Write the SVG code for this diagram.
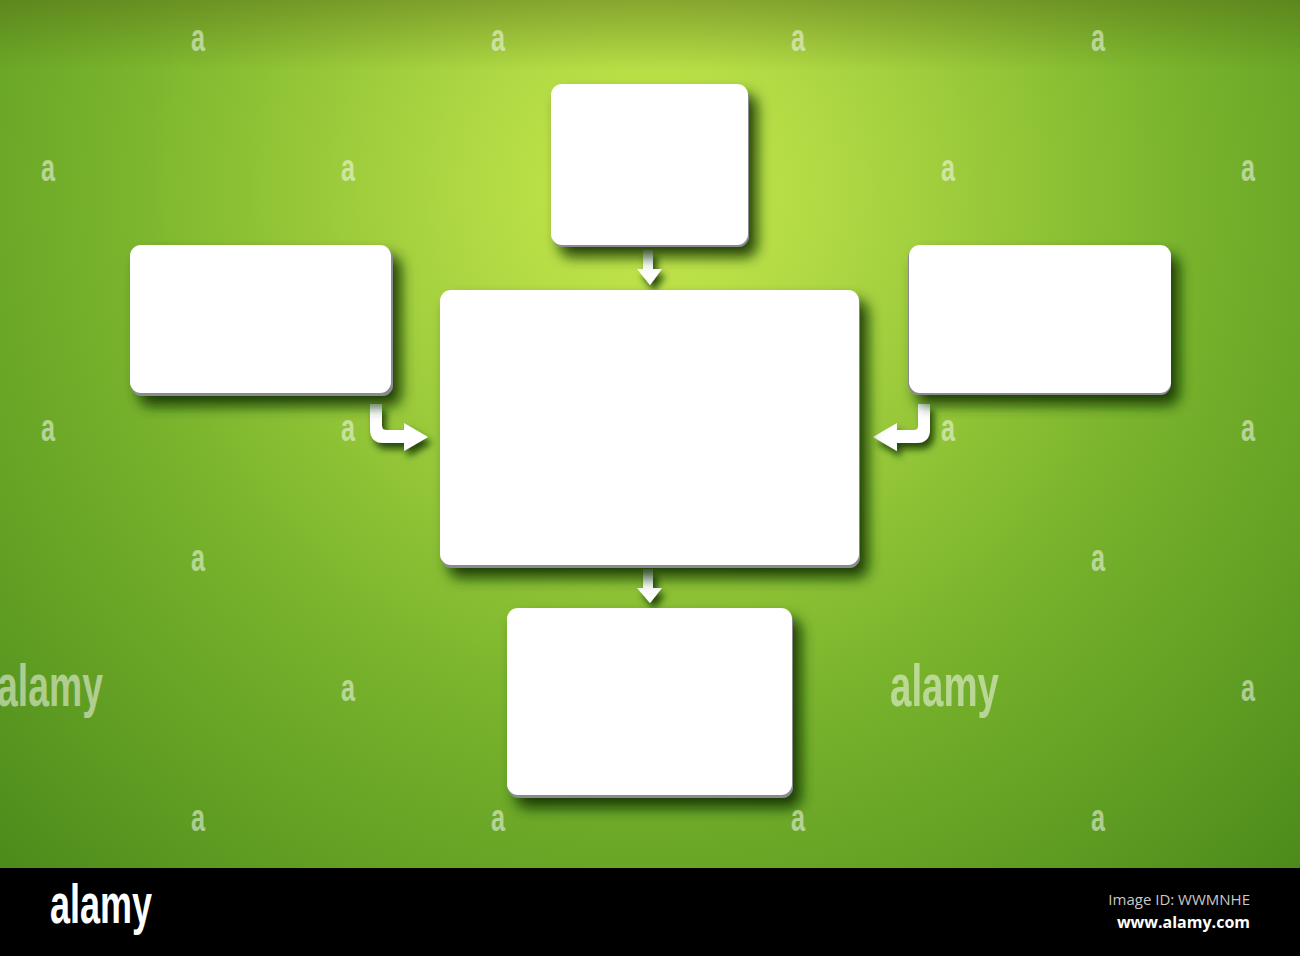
<svg xmlns="http://www.w3.org/2000/svg" width="1300" height="956" viewBox="0 0 1300 956">
<defs>
<radialGradient id="bg" cx="650" cy="190" r="950" gradientUnits="userSpaceOnUse">
<stop offset="0" stop-color="#c9ea4c"/>
<stop offset="0.22" stop-color="#acd642"/>
<stop offset="0.55" stop-color="#7bb52d"/>
<stop offset="1" stop-color="#4a8a1a"/>
</radialGradient>
<linearGradient id="topshade" x1="0" y1="0" x2="0" y2="1">
<stop offset="0" stop-color="#4a5a10" stop-opacity="0.4"/>
<stop offset="1" stop-color="#4a5a10" stop-opacity="0"/>
</linearGradient>
<filter id="sh" x="-20%" y="-20%" width="150%" height="160%">
<feDropShadow dx="8" dy="10" stdDeviation="7" flood-color="#103000" flood-opacity="0.9"/>
</filter>
<filter id="ash" x="-50%" y="-50%" width="200%" height="200%">
<feDropShadow dx="4" dy="6" stdDeviation="3.5" flood-color="#103000" flood-opacity="0.85"/>
</filter>
</defs>
<style>
.edge{fill:#8a8a90}
.box{fill:#ffffff}
.arr{fill:#ffffff}
.wm{font-family:"Liberation Sans Narrow","Liberation Sans",Arial,sans-serif;font-weight:bold;fill:#ffffff;fill-opacity:0.5}
.wa{font-size:38px}
.logo{font-family:"Liberation Sans Narrow","Liberation Sans",Arial,sans-serif;font-weight:bold;fill:#ffffff}
.info{font-family:"Open Sans","DejaVu Sans",sans-serif;text-anchor:end}
</style>
<rect x="0" y="0" width="1300" height="868" fill="url(#bg)"/>
<rect x="0" y="0" width="1300" height="70" fill="url(#topshade)"/>

<g id="connectors" filter="url(#ash)">
<path class="arr" d="M643,250 L653,250 L653,269 L662,269 L650,285 L637,269 L643,269 Z"/>
<path class="arr" d="M643,569 L653,569 L653,588 L662,588 L650,603 L637,588 L643,588 Z"/>
<path class="arr" d="M370,404 L382,404 L382,426 Q382,430 386,430 L404,430 L404,423 L428,437 L404,451 L404,443 L384,443 Q370,443 370,429 Z"/>
<path class="arr" d="M930,404 L918,404 L918,426 Q918,430 914,430 L897,430 L897,423 L873,437 L897,451 L897,443 L916,443 Q930,443 930,429 Z"/>
</g>

<g id="node-top" filter="url(#sh)">
<rect class="edge" x="552" y="86" width="197" height="161" rx="11"/>
<rect class="box" x="551" y="84" width="197" height="161" rx="11"/>
</g>
<g id="node-left" filter="url(#sh)">
<rect class="edge" x="131" y="247" width="262" height="149" rx="11"/>
<rect class="box" x="130" y="245" width="261" height="148" rx="11"/>
</g>
<g id="node-right" filter="url(#sh)">
<rect class="edge" x="908" y="247" width="263" height="148" rx="11"/>
<rect class="box" x="909" y="245" width="262" height="148" rx="11"/>
</g>
<g id="node-center" filter="url(#sh)">
<rect class="edge" x="441" y="292" width="419" height="276" rx="11"/>
<rect class="box" x="440" y="290" width="419" height="275" rx="11"/>
</g>
<g id="node-bottom" filter="url(#sh)">
<rect class="edge" x="508" y="610" width="285" height="188" rx="11"/>
<rect class="box" x="507" y="608" width="285" height="187" rx="11"/>
</g>

<g id="watermark" class="wm">
<g class="wa" text-anchor="middle">
<text x="198" y="51" textLength="14" lengthAdjust="spacingAndGlyphs">a</text>
<text x="498" y="51" textLength="14" lengthAdjust="spacingAndGlyphs">a</text>
<text x="798" y="51" textLength="14" lengthAdjust="spacingAndGlyphs">a</text>
<text x="1098" y="51" textLength="14" lengthAdjust="spacingAndGlyphs">a</text>
<text x="48" y="181" textLength="14" lengthAdjust="spacingAndGlyphs">a</text>
<text x="348" y="181" textLength="14" lengthAdjust="spacingAndGlyphs">a</text>
<text x="948" y="181" textLength="14" lengthAdjust="spacingAndGlyphs">a</text>
<text x="1248" y="181" textLength="14" lengthAdjust="spacingAndGlyphs">a</text>
<text x="48" y="441" textLength="14" lengthAdjust="spacingAndGlyphs">a</text>
<text x="348" y="441" textLength="14" lengthAdjust="spacingAndGlyphs">a</text>
<text x="948" y="441" textLength="14" lengthAdjust="spacingAndGlyphs">a</text>
<text x="1248" y="441" textLength="14" lengthAdjust="spacingAndGlyphs">a</text>
<text x="198" y="571" textLength="14" lengthAdjust="spacingAndGlyphs">a</text>
<text x="1098" y="571" textLength="14" lengthAdjust="spacingAndGlyphs">a</text>
<text x="348" y="701" textLength="14" lengthAdjust="spacingAndGlyphs">a</text>
<text x="1248" y="701" textLength="14" lengthAdjust="spacingAndGlyphs">a</text>
<text x="198" y="831" textLength="14" lengthAdjust="spacingAndGlyphs">a</text>
<text x="498" y="831" textLength="14" lengthAdjust="spacingAndGlyphs">a</text>
<text x="798" y="831" textLength="14" lengthAdjust="spacingAndGlyphs">a</text>
<text x="1098" y="831" textLength="14" lengthAdjust="spacingAndGlyphs">a</text>
</g>
<text x="-3" y="706" font-size="60" textLength="106" lengthAdjust="spacingAndGlyphs">alamy</text>
<text x="890" y="706" font-size="60" textLength="109" lengthAdjust="spacingAndGlyphs">alamy</text>
</g>

<g id="footer">
<rect x="0" y="868" width="1300" height="88" fill="#000000"/>
<text class="logo" x="50" y="923" font-size="56" textLength="102" lengthAdjust="spacingAndGlyphs">alamy</text>
<text class="info" x="1250" y="905" font-size="15" fill="#c8c8c8">Image ID: WWMNHE</text>
<text class="info" x="1250" y="928" font-size="16" font-weight="bold" fill="#ffffff">www.alamy.com</text>
</g>
</svg>
